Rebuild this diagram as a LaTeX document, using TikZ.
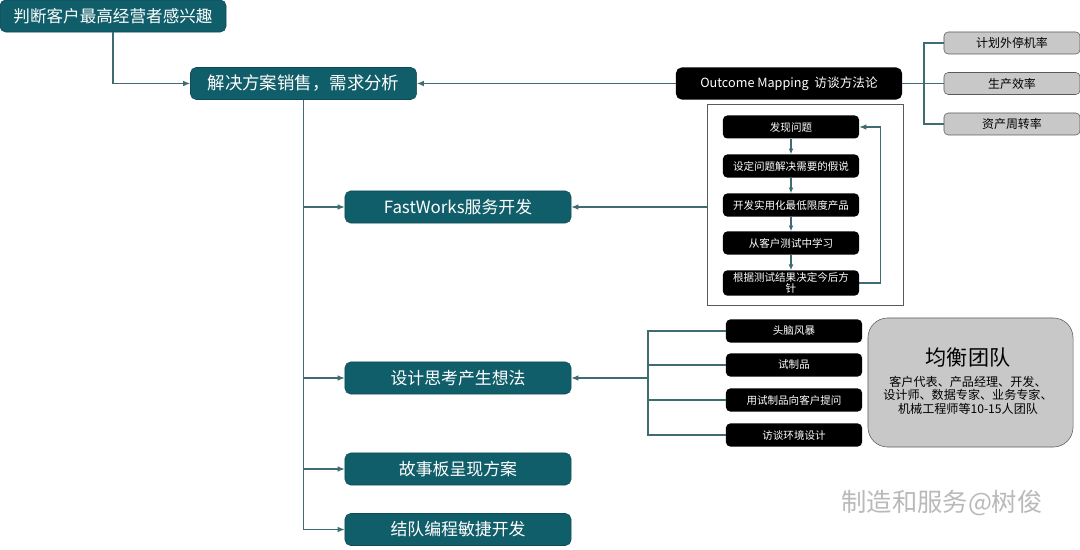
\documentclass[tikz,border=0pt]{standalone}
\usepackage{fontspec}
\setmainfont{Noto Sans CJK SC}
\definecolor{gdteal}{RGB}{17,94,107}
\definecolor{gdline}{RGB}{62,108,114}
\definecolor{gdgray}{RGB}{200,200,200}
\definecolor{gdedge}{RGB}{90,90,90}
\usetikzlibrary{arrows.meta,positioning,calc}

\begin{document}
\begin{tikzpicture}[x=0.025cm,y=-0.025cm,
    every node/.style={inner sep=1pt,align=center},
    mainbox/.style={draw=gdteal!80!black,fill=gdteal,rounded corners=4pt,text=white,
      minimum width=5.65cm,minimum height=0.8cm,font=\fontsize{12}{14}\selectfont},
    blkbox/.style={fill=black,rounded corners=3pt,text=white,
      minimum width=3.4cm,minimum height=0.575cm,font=\fontsize{7.5}{8.5}\selectfont},
    kpibox/.style={draw=gdedge,fill=gdgray,rounded corners=3pt,
      minimum width=3.4cm,minimum height=0.55cm,font=\fontsize{8.5}{10}\selectfont},
    link/.style={gdline,line width=0.8pt},
    arr/.style={link,-{Latex[length=5pt,width=4pt]}}]

  \useasboundingbox (0,0) rectangle (1080,550);

  %% top: interest and solution selling
  \node[mainbox,font=\fontsize{11.8}{14}\selectfont] (judge) at (113,16) {判断客户最高经营者感兴趣};
  \node[mainbox,font=\fontsize{12.4}{15}\selectfont] (sales) at (303.5,83.5) {解决方案销售，需求分析};
  \draw[arr] (judge.south) |- (sales.west);

  %% Outcome Mapping and its indicators
  \node[fill=black,rounded corners=4pt,text=white,minimum width=5.65cm,minimum height=0.8cm,
        font=\fontsize{9}{11}\selectfont] (om) at (789,83.5) {Outcome Mapping\ \ 访谈方法论};
  \node[kpibox] (kpi1) at (1012,43)   {计划外停机率};
  \node[kpibox] (kpi2) at (1012,83.5) {生产效率};
  \node[kpibox] (kpi3) at (1012,124)  {资产周转率};
  \coordinate (kj) at (924,83.5);
  \draw[arr] (om.west) -- (sales.east);
  \draw[link] (om.east) -- (kpi2.west);
  \draw[link] (kpi1.west) -| (kj) |- (kpi3.west);

  %% branches of the trunk
  \node[mainbox] (fast)   at (458,207) {FastWorks服务开发};
  \node[mainbox] (design) at (458,378) {设计思考产生想法};
  \node[mainbox] (story)  at (458,469) {故事板呈现方案};
  \node[mainbox] (pair)   at (458,529.5) {结队编程敏捷开发};
  \foreach \n in {fast,design,story,pair}
    \draw[arr] (sales.south) |- (\n.west);

  %% FastWorks cycle
  \node[draw=gdedge,minimum width=4.9cm,minimum height=5.03cm] (fwpanel) at (805,204.5) {};
  \node[blkbox] (s1) at (791,127) {发现问题};
  \node[blkbox] (s2) at (791,166) {设定问题解决需要的假说};
  \node[blkbox] (s3) at (791,205) {开发实用化最低限度产品};
  \node[blkbox] (s4) at (791,243) {从客户测试中学习};
  \node[blkbox,minimum height=0.63cm,font=\fontsize{7.5}{8}\selectfont] (s5) at (791,283)
       {根据测试结果决定今后方\\针};
  \foreach \a/\b in {s1/s2,s2/s3,s3/s4,s4/s5}
    \draw[arr,-{Latex[length=4pt,width=3.5pt]}] (\a) -- (\b);
  \draw[arr] (s5.east) -- ++(21,0) |- (s1.east);
  \draw[arr] (fwpanel.west |- fast.east) -- (fast.east);

  %% design thinking
  \node[blkbox] (d1) at (794,331) {头脑风暴};
  \node[blkbox] (d2) at (794,365) {试制品};
  \node[blkbox] (d3) at (794,400) {用试制品向客户提问};
  \node[blkbox] (d4) at (794,435) {访谈环境设计};
  \coordinate (dj) at (648,378);
  \draw[link] (d1.west) -| (dj) |- (d4.west);
  \draw[link] (dj |- d2.west) -- (d2.west);
  \draw[link] (dj |- d3.west) -- (d3.west);
  \draw[arr] (dj) -- (design.east);

  %% balanced team
  \node[draw=gdedge,fill=gdgray,rounded corners=14pt,minimum width=5.125cm,minimum height=3.225cm] (team) at (970.5,382.5) {};
  \node[font=\fontsize{15}{17}\selectfont] (teamtitle) at (968,358) {均衡团队};
  \node[font=\fontsize{8.6}{9.6}\selectfont] (teamtext) at (968,395)
       {客户代表、产品经理、开发、\\设计师、数据专家、业务专家、\\机械工程师等10-15人团队};

  %% watermark
  \node[text=gray!55,font=\fontsize{18}{20}\selectfont] (mark) at (942,503) {制造和服务@树俊};
\end{tikzpicture}
\end{document}
